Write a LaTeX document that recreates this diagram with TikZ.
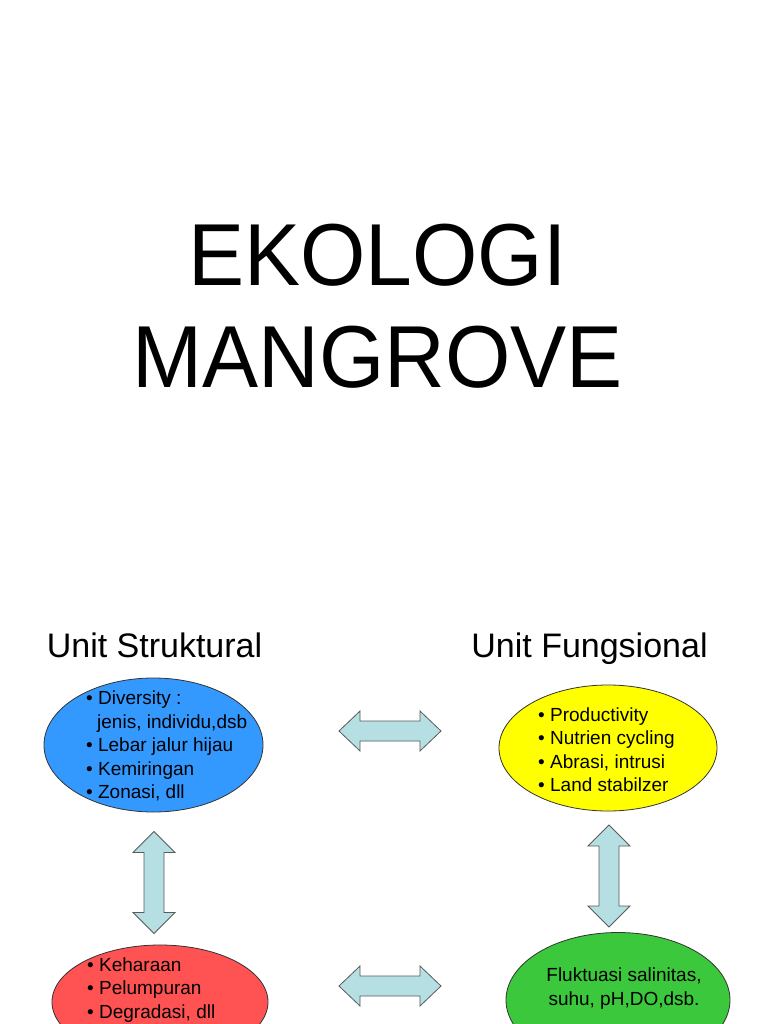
\documentclass[tikz,border=0pt]{standalone}
\usepackage{fontspec}
\usepackage{graphicx}
\setmainfont{Liberation Sans}
\usetikzlibrary{shapes.geometric}
\definecolor{blueell}{HTML}{3399FF}
\definecolor{yellowell}{HTML}{FFFF00}
\definecolor{redell}{HTML}{FF5252}
\definecolor{greenell}{HTML}{3CC83C}
\definecolor{arrfill}{HTML}{B6DFE4}
\definecolor{arrline}{HTML}{5A5A5A}
\tikzset{
  ell/.style={ellipse, draw=black!80, line width=0.8pt, inner sep=0pt},
  bodytext/.style={font=\fontsize{19}{23.4}\selectfont, align=left, inner sep=0pt, text=black},
  headtext/.style={font=\fontsize{34}{40}\selectfont, anchor=base, inner sep=0pt},
  titletext/.style={font=\fontsize{88}{100}\selectfont, anchor=base, inner sep=0pt},
  arrowbody/.style={fill=arrfill, draw=arrline, line width=0.8pt, line join=miter},
  hdouble/.pic={\path[arrowbody] (-51,0) -- (-30,-20) -- (-30,-10) -- (30,-10) -- (30,-20) -- (51,0) -- (30,20) -- (30,10) -- (-30,10) -- (-30,20) -- cycle;},
  vdouble/.pic={\path[arrowbody] (0,-51) -- (-21,-30) -- (-10,-30) -- (-10,30) -- (-21,30) -- (0,51) -- (21,30) -- (10,30) -- (10,-30) -- (21,-30) -- cycle;}
}
\begin{document}
\begin{tikzpicture}[x=1pt,y=-1pt]
\useasboundingbox[fill=white] (0,0) rectangle (768,1024);
% title
\node[titletext] (t1) at (377.5,285) {\scalebox{0.955}[1]{EKOLOGI}};
\node[titletext] (t2) at (377.5,387) {\scalebox{0.955}[1]{MANGROVE}};
% headings
\node[headtext] (hs) at (154.5,657) {Unit Struktural};
\node[headtext] (hf) at (589.5,657) {Unit Fungsional};
% ellipses
\node[ell, fill=blueell, minimum width=219pt, minimum height=134pt] (struk) at (153.5,745) {};
\node[ell, fill=yellowell, minimum width=218pt, minimum height=126pt] (fungs) at (608,748) {};
\node[ell, fill=redell, minimum width=216pt, minimum height=114pt] (ganggu) at (160,1002) {};
\node[ell, fill=greenell, minimum width=224pt, minimum height=135pt] (fisik) at (618,1000) {};
% texts
\node[bodytext, anchor=west] (ts) at (86,746) {• Diversity :\\\hspace*{11pt}jenis, individu,dsb\\• Lebar jalur hijau\\• Kemiringan\\• Zonasi, dll};
\node[bodytext, anchor=west] (tf) at (538,749.5) {• Productivity\\• Nutrien cycling\\• Abrasi, intrusi\\• Land stabilzer};
\node[bodytext, anchor=west] (tg) at (87,990) {• Keharaan\\• Pelumpuran\\• Degradasi, dll};
\node[bodytext, align=center] (tk) at (624,988.5) {Fluktuasi salinitas,\\suhu, pH,DO,dsb.};
% double arrows
\pic (a1) at (390,731) {hdouble};
\pic (a2) at (390,986) {hdouble};
\pic (a3) at (154,882.5) {vdouble};
\pic (a4) at (609,876) {vdouble};
\end{tikzpicture}
\end{document}
